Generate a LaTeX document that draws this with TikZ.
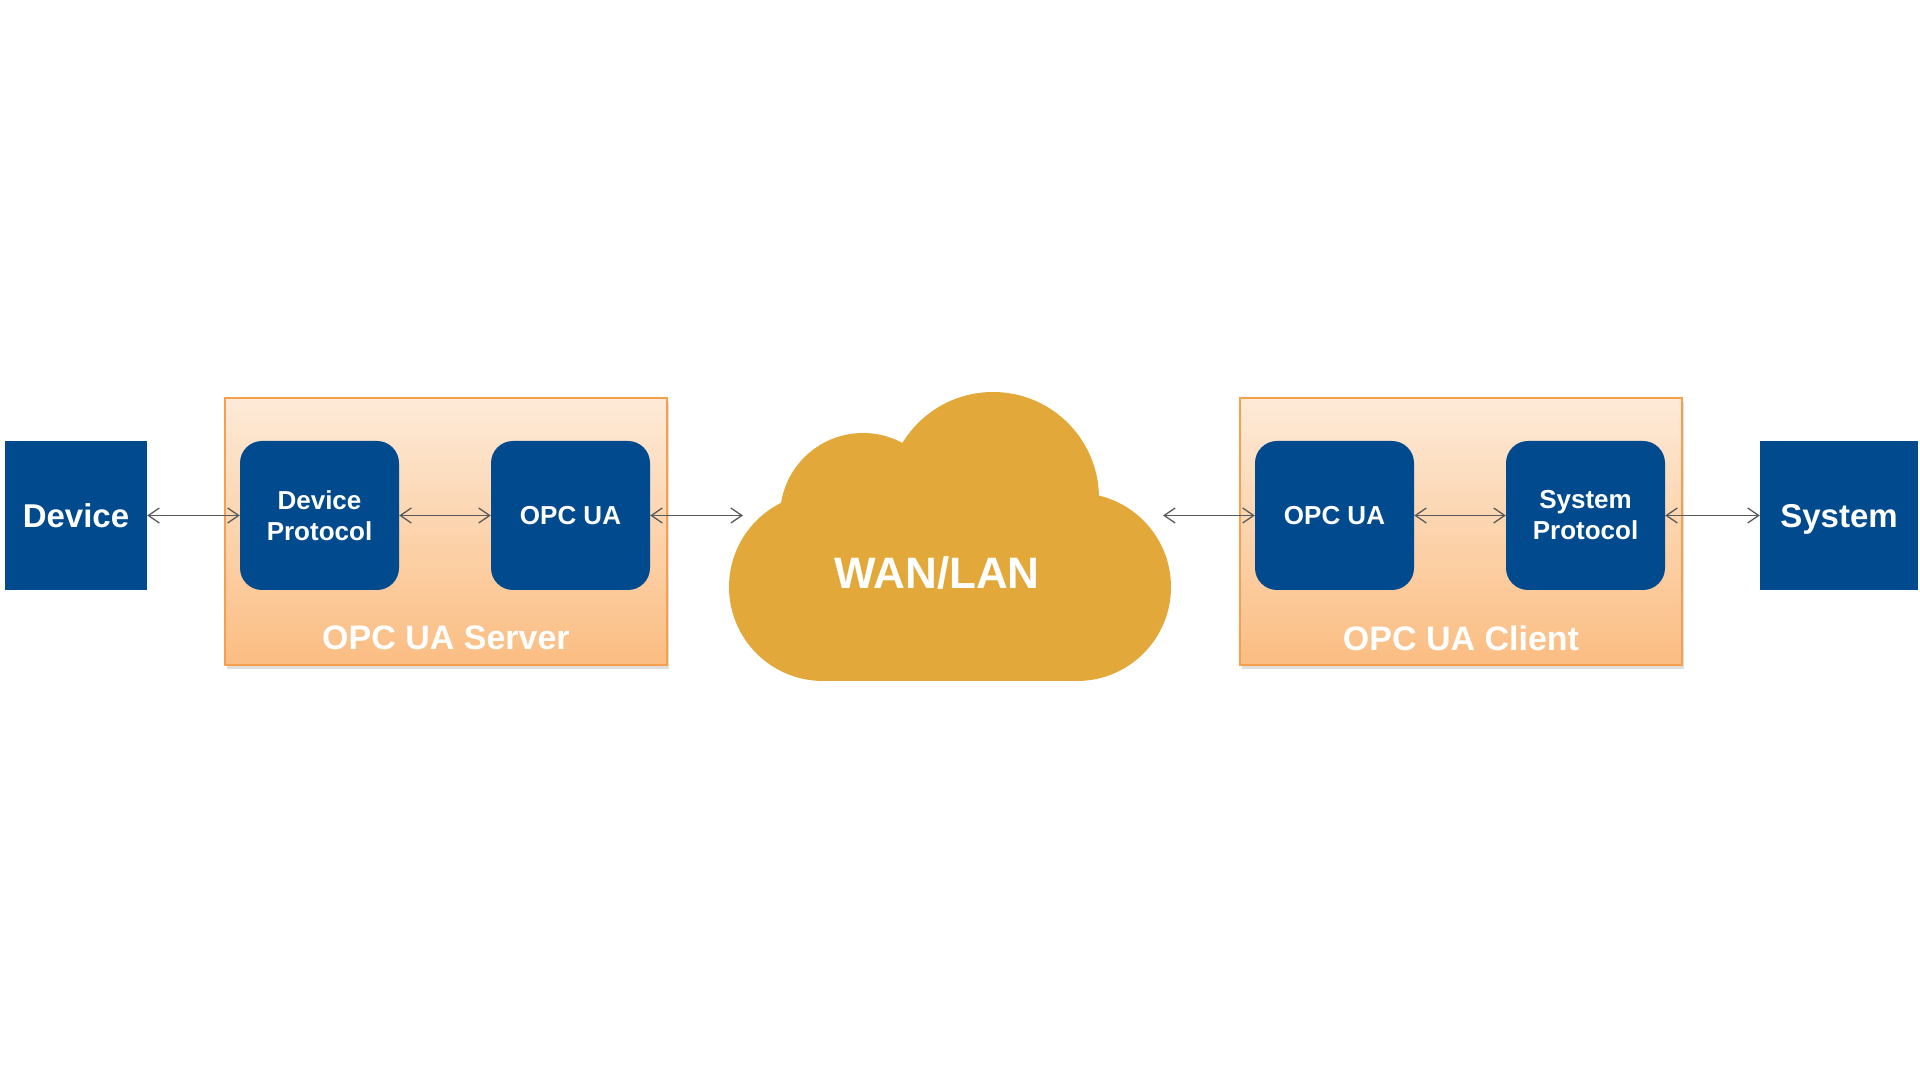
\documentclass[tikz,border=0pt]{standalone}
\usepackage{fontspec}
\setmainfont{Liberation Sans}
\usepackage{tikz}
\usetikzlibrary{arrows.meta, shadows}
\definecolor{opcblue}{RGB}{0,74,141}
\definecolor{cloudgold}{RGB}{227,168,58}
\definecolor{frametop}{RGB}{253,234,216}
\definecolor{framebot}{RGB}{251,189,130}
\definecolor{frameline}{RGB}{246,160,78}
\definecolor{arrowgray}{RGB}{90,90,90}
\tikzstyle{arrow} = [line width=1.3pt, draw=arrowgray,
  {Straight Barb[length=11pt,width=15pt]}-{Straight Barb[length=11pt,width=15pt]}]

\begin{document}
\begin{tikzpicture}[x=1pt, y=1pt,
    unit/.style={fill=opcblue, text=white, inner sep=0pt, minimum height=149pt,
      text height=24pt, text depth=0pt,
      font=\bfseries\fontsize{33}{38}\selectfont},
    part/.style={fill=opcblue, text=white, inner sep=0pt, minimum width=159pt,
      minimum height=149pt, rounded corners=22pt, align=center,
      font=\bfseries\fontsize{26}{31}\selectfont},
    framebox/.style={draw=frameline, line width=1.5pt, top color=frametop,
      bottom color=framebot, minimum width=442pt, minimum height=267pt,
      drop shadow={shadow xshift=2pt, shadow yshift=-4pt, opacity=0.25}},
    flabel/.style={text=white, font=\bfseries\fontsize{34}{40}\selectfont},
  ]
  \useasboundingbox (0,0) rectangle (1920,1080);

  % server and client frames
  \node[framebox] (srvframe) at (446,548.5) {};
  \node[flabel] (srvlabel) at (446,442) {OPC UA Server};
  \node[framebox] (cliframe) at (1461,548.5) {};
  \node[flabel] (clilabel) at (1461,442) {OPC UA Client};

  % end points and inner blocks
  \node[unit, minimum width=142pt] (device) at (76,564.5) {Device};
  \node[part] (devproto) at (319.5,564.5) {Device\\Protocol};
  \node[part] (srvopc) at (570.5,564.5) {OPC UA};
  \node[part] (cliopc) at (1334.5,564.5) {OPC UA};
  \node[part] (sysproto) at (1585.5,564.5) {System\\Protocol};
  \node[unit, minimum width=158pt] (system) at (1839,564.5) {System};

  % cloud
  \foreach \cx/\cy/\r in {823/493/94, 1077/493/94, 863/564/83, 993/582/106}
    \fill[cloudgold] (\cx,\cy) circle[radius=\r];
  \fill[cloudgold] (823,399) rectangle (1077,582);
  \node[text=white, font=\bfseries\fontsize{44}{50}\selectfont] (cloud) at (937,507) {WAN/LAN};
  \coordinate (cloudW) at (743,564.5);
  \coordinate (cloudE) at (1163,564.5);

  \draw[arrow] (device) -- (devproto);
  \draw[arrow] (devproto) -- (srvopc);
  \draw[arrow] (srvopc) -- (cloudW);
  \draw[arrow] (cloudE) -- (cliopc);
  \draw[arrow] (cliopc) -- (sysproto);
  \draw[arrow] (sysproto) -- (system);
\end{tikzpicture}
\end{document}
